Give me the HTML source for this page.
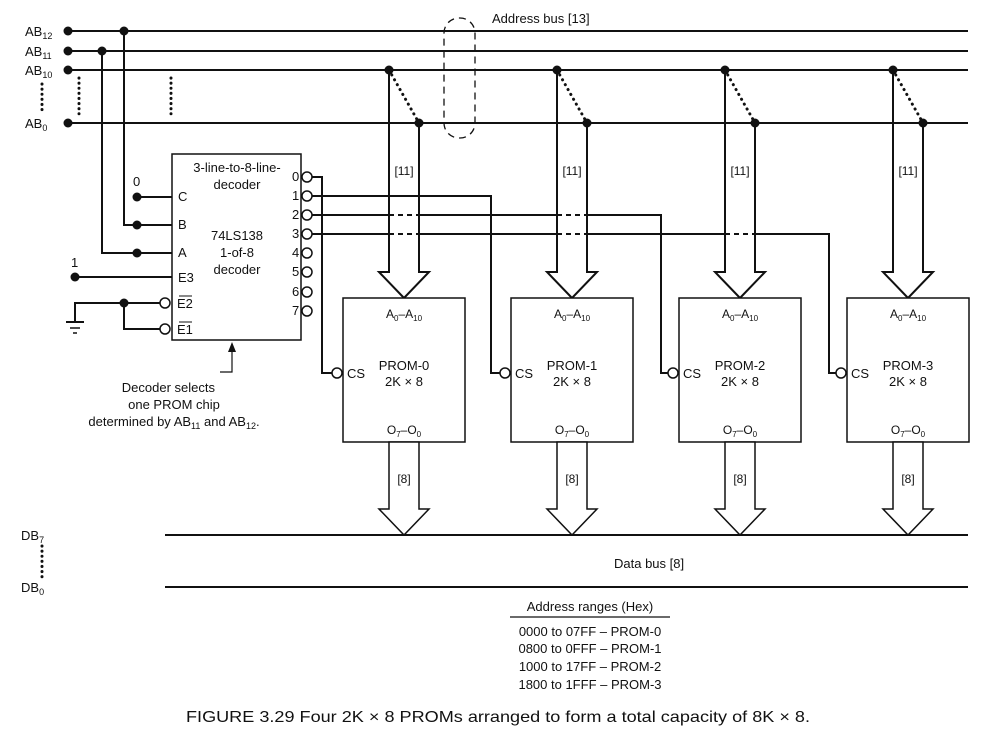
<!DOCTYPE html>
<html><head><meta charset="utf-8"><style>
body{margin:0;background:#fff}
svg{display:block}
text{font-family:"Liberation Sans",sans-serif;fill:#111}
</style></head><body>
<svg width="996" height="741" viewBox="0 0 996 741" xmlns="http://www.w3.org/2000/svg">
<g stroke="#111" stroke-width="2" fill="none">
<line x1="68" y1="31" x2="968" y2="31"/>
<line x1="68" y1="51" x2="968" y2="51"/>
<line x1="68" y1="70" x2="968" y2="70"/>
<line x1="68" y1="123" x2="968" y2="123"/>
<polyline points="124,31 124,225 172,225"/>
<polyline points="102,51 102,253 172,253"/>
<line x1="137" y1="197" x2="172" y2="197"/>
<line x1="75" y1="277" x2="172" y2="277"/>
<polyline points="75,322 75,303 161,303"/>
<polyline points="124,303 124,329 161,329"/>
<line x1="66" y1="322" x2="84" y2="322"/>
<line x1="70" y1="328" x2="80" y2="328" stroke-width="1.5"/>
<line x1="73" y1="333" x2="77" y2="333" stroke-width="1.5"/>
<rect x="172" y="154" width="129" height="186" stroke-width="1.5"/>
<rect x="444" y="18" width="31" height="120" rx="15" ry="15" stroke-width="1.3" stroke-dasharray="7,5"/>
<line x1="165" y1="535" x2="968" y2="535"/>
<line x1="165" y1="587" x2="968" y2="587"/>
<line x1="510" y1="617" x2="670" y2="617" stroke-width="1.2"/>
<polyline points="220,372 232,372 232,350" stroke-width="1.2"/>
</g>
<polygon points="228,352 236,352 232,342" fill="#111"/>
<g stroke="#111" stroke-width="3" stroke-dasharray="0.1,5" stroke-linecap="round" fill="none">
<line x1="42" y1="84" x2="42" y2="113"/>
<line x1="79" y1="78" x2="79" y2="118"/>
<line x1="171" y1="78" x2="171" y2="118"/>
<line x1="42" y1="546" x2="42" y2="577"/>
</g>
<g fill="#111">
<circle cx="68" cy="31" r="4.5"/><circle cx="68" cy="51" r="4.5"/><circle cx="68" cy="70" r="4.5"/><circle cx="68" cy="123" r="4.5"/>
<circle cx="124" cy="31" r="4.5"/><circle cx="102" cy="51" r="4.5"/>
<circle cx="137" cy="197" r="4.5"/><circle cx="137" cy="225" r="4.5"/><circle cx="137" cy="253" r="4.5"/>
<circle cx="75" cy="277" r="4.5"/><circle cx="124" cy="303" r="4.5"/>
</g>
<g id="p0">
<line x1="389" y1="70" x2="419" y2="123" stroke="#111" stroke-width="3" stroke-dasharray="0.1,5.5" stroke-linecap="round"/>
<circle cx="389" cy="70" r="4.5" fill="#111"/><circle cx="419" cy="123" r="4.5" fill="#111"/>
<polyline points="389,70 389,272 379,272 404,298 429,272 419,272 419,123" fill="none" stroke="#111" stroke-width="2"/>
<rect x="343" y="298" width="122" height="144" fill="#fff" stroke="#111" stroke-width="1.5"/>
<polygon points="389,442 389,509 379,509 404,535 429,509 419,509 419,442" fill="#fff" stroke="#111" stroke-width="1.5"/>
<circle cx="337" cy="373" r="5" fill="#fff" stroke="#111" stroke-width="1.5"/>
<text x="347" y="378" font-size="13">CS</text>
<text x="404" y="175" font-size="12" text-anchor="middle">[11]</text>
<text x="404" y="483" font-size="12" text-anchor="middle">[8]</text>
<text x="404" y="318" font-size="12" text-anchor="middle">A<tspan font-size="8" dy="3">0</tspan><tspan dy="-3">–A</tspan><tspan font-size="8" dy="3">10</tspan></text>
<text x="404" y="434" font-size="12" text-anchor="middle">O<tspan font-size="8" dy="3">7</tspan><tspan dy="-3">–O</tspan><tspan font-size="8" dy="3">0</tspan></text>
</g>
<use href="#p0" x="168"/><use href="#p0" x="336"/><use href="#p0" x="504"/>
<g stroke="#111" stroke-width="2" fill="none">
<polyline points="312,177 322,177 322,373 332,373"/>
<polyline points="312,196 491,196 491,373 500,373"/>
<polyline points="312,215 389,215"/><line x1="389" y1="215" x2="419" y2="215" stroke-dasharray="5,4"/><polyline points="419,215 557,215"/><line x1="557" y1="215" x2="587" y2="215" stroke-dasharray="5,4"/><polyline points="587,215 661,215 661,373 668,373"/>
<polyline points="312,234 389,234"/><line x1="389" y1="234" x2="419" y2="234" stroke-dasharray="5,4"/><polyline points="419,234 557,234"/><line x1="557" y1="234" x2="587" y2="234" stroke-dasharray="5,4"/><polyline points="587,234 725,234"/><line x1="725" y1="234" x2="755" y2="234" stroke-dasharray="5,4"/><polyline points="755,234 829,234 829,373 836,373"/>
</g>
<g fill="#fff" stroke="#111" stroke-width="1.5">
<circle cx="165" cy="303" r="5"/><circle cx="165" cy="329" r="5"/>
<circle cx="307" cy="177" r="5"/><circle cx="307" cy="196" r="5"/><circle cx="307" cy="215" r="5"/><circle cx="307" cy="234" r="5"/><circle cx="307" cy="253" r="5"/><circle cx="307" cy="272" r="5"/><circle cx="307" cy="292" r="5"/><circle cx="307" cy="311" r="5"/>
</g>
<g font-size="13" text-anchor="middle">
<text x="404" y="370">PROM-0</text><text x="404" y="386">2K × 8</text>
<text x="572" y="370">PROM-1</text><text x="572" y="386">2K × 8</text>
<text x="740" y="370">PROM-2</text><text x="740" y="386">2K × 8</text>
<text x="908" y="370">PROM-3</text><text x="908" y="386">2K × 8</text>
</g>
<g font-size="13">
<text x="25" y="36">AB<tspan font-size="9" dy="3">12</tspan></text>
<text x="25" y="56">AB<tspan font-size="9" dy="3">11</tspan></text>
<text x="25" y="75">AB<tspan font-size="9" dy="3">10</tspan></text>
<text x="25" y="128">AB<tspan font-size="9" dy="3">0</tspan></text>
<text x="21" y="540">DB<tspan font-size="9" dy="3">7</tspan></text>
<text x="21" y="592">DB<tspan font-size="9" dy="3">0</tspan></text>
<text x="492" y="23">Address bus [13]</text>
<text x="614" y="568">Data bus [8]</text>
<text x="133" y="186">0</text><text x="71" y="267">1</text>
<text x="178" y="201">C</text><text x="178" y="229">B</text><text x="178" y="257">A</text><text x="178" y="282">E3</text>
<text x="177" y="308">E2</text><text x="177" y="334">E1</text>
<text x="237" y="172" text-anchor="middle">3-line-to-8-line-</text>
<text x="237" y="189" text-anchor="middle">decoder</text>
<text x="237" y="240" text-anchor="middle">74LS138</text>
<text x="237" y="257" text-anchor="middle">1-of-8</text>
<text x="237" y="274" text-anchor="middle">decoder</text>
<text x="292" y="181">0</text><text x="292" y="200">1</text><text x="292" y="219">2</text><text x="292" y="238">3</text><text x="292" y="257">4</text><text x="292" y="276">5</text><text x="292" y="296">6</text><text x="292" y="315">7</text>
<text x="215" y="392" text-anchor="end">Decoder selects</text>
<text x="174" y="409" text-anchor="middle">one PROM chip</text>
<text x="174" y="426" text-anchor="middle">determined by AB<tspan font-size="9" dy="3">11</tspan><tspan dy="-3"> and AB</tspan><tspan font-size="9" dy="3">12</tspan><tspan dy="-3">.</tspan></text>
<text x="590" y="611" text-anchor="middle">Address ranges (Hex)</text>
<text x="590" y="636" text-anchor="middle">0000 to 07FF – PROM-0</text>
<text x="590" y="653" text-anchor="middle">0800 to 0FFF – PROM-1</text>
<text x="590" y="671" text-anchor="middle">1000 to 17FF – PROM-2</text>
<text x="590" y="689" text-anchor="middle">1800 to 1FFF – PROM-3</text>
</g>
<line x1="179" y1="296" x2="192" y2="296" stroke="#111" stroke-width="1"/>
<line x1="179" y1="322" x2="192" y2="322" stroke="#111" stroke-width="1"/>
<text x="186" y="722" font-size="16" textLength="624" lengthAdjust="spacingAndGlyphs">FIGURE 3.29    Four 2K × 8 PROMs arranged to form a total capacity of 8K × 8.</text>
</svg>
</body></html>
